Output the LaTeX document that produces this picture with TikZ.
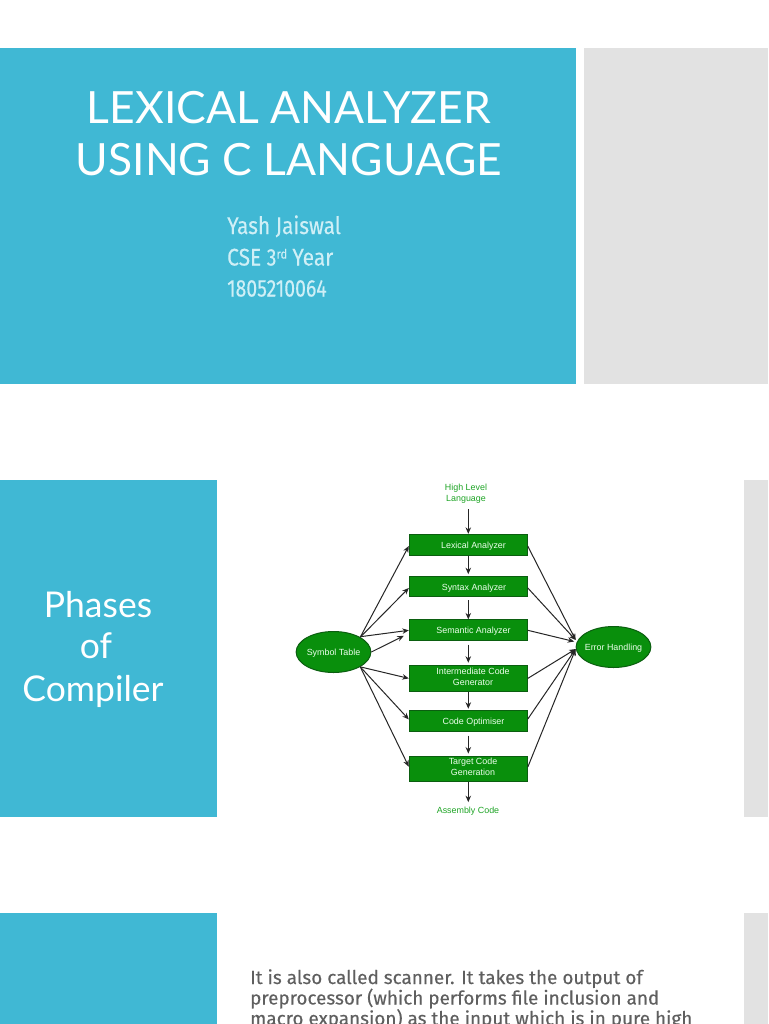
\documentclass[tikz,border=0pt]{standalone}
\usepackage{fontspec}
\usetikzlibrary{shapes.geometric,arrows.meta}
\setmainfont{Fira Sans}[FakeBold=0.25]
\newfontfamily\labelfont{Liberation Sans}
\newfontfamily\titlefont{Lato}
\newfontfamily\subfont{Fira Sans}[FakeStretch=0.87,FakeBold=0.25]
\newfontfamily\digitfont{Fira Sans}[FakeStretch=0.81,FakeBold=0.25]
\definecolor{panel}{HTML}{40B8D4}
\definecolor{sidegray}{HTML}{E2E2E2}
\definecolor{boxgreen}{HTML}{098F0C}
\definecolor{edgegreen}{HTML}{0B5E10}
\definecolor{labelgreen}{HTML}{1FA526}
\definecolor{subtext}{HTML}{CFEFF6}
\definecolor{bodygray}{HTML}{5F5F5F}
\tikzset{
  x=1pt,y=-1pt,
  panelbox/.style={fill=panel,draw=none},
  sidebox/.style={fill=sidegray,draw=none},
  phasebox/.style={rectangle,draw=edgegreen,fill=boxgreen,line width=1pt,inner sep=0pt,minimum width=118pt},
  oval/.style={ellipse,draw=edgegreen,fill=boxgreen,line width=1pt,inner sep=0pt,minimum width=74.7pt,minimum height=41pt},
  phasetext/.style={text=white!92!green,font=\labelfont\fontsize{8.9}{10.4}\selectfont,align=center,inner sep=0pt},
  greentext/.style={text=labelgreen,font=\labelfont\fontsize{8.9}{10.4}\selectfont,align=center,inner sep=0pt},
  flow/.style={draw=black!85,line width=1pt,-{Stealth[length=6.5pt,width=5.5pt]}},
  titletext/.style={text=white,font=\titlefont\fontsize{44.4}{50}\selectfont,anchor=base,inner sep=0pt},
  subtitle/.style={text=subtext,font=\subfont\fontsize{24}{24}\selectfont,anchor=base west,inner sep=0pt},
  sidetitle/.style={text=white,font=\titlefont\fontsize{35.5}{40}\selectfont,anchor=base,inner sep=0pt},
  bodyline/.style={text=bodygray,font=\fontsize{18.9}{20}\selectfont,anchor=base west,inner sep=0pt}
}
\begin{document}
\begin{tikzpicture}
\useasboundingbox (0,0) rectangle (768,1024);
\clip (0,0) rectangle (768,1024);
\fill[white] (0,0) rectangle (768,1024);
% slide panels
\fill[panelbox] (0,48) rectangle (576,384);
\fill[sidebox] (584,48) rectangle (768,384);
\fill[panelbox] (0,480) rectangle (217,817);
\fill[sidebox] (744,480) rectangle (768,817);
\fill[panelbox] (0,913) rectangle (217,1024);
\fill[sidebox] (744,913) rectangle (768,1024);
% title slide
\node[titletext] (t1) at (289,124) {LEXICAL ANALYZER};
\node[titletext] (t2) at (289,176) {USING C LANGUAGE};
\node[subtitle] (s1) at (227,234) {Yash Jaiswal};
\node[subtitle] (s2) at (227,265.5) {CSE \digitfont 3\raisebox{0.55ex}{\subfont\fontsize{13}{13}\selectfont rd} \subfont Year};
\node[subtitle] (s3) at (227,296.5) {\digitfont 1805210064};
% side title
\node[sidetitle] (p1) at (98,617.5) {Phases};
\node[sidetitle] (p2) at (96,658.5) {of};
\node[sidetitle] (p3) at (93,701.5) {Compiler};
% diagram
\node[phasebox,minimum height=20.7pt] (lex) at (468.3,544.7) {};
\node[phasebox,minimum height=20pt] (syn) at (468.3,586.7) {};
\node[phasebox,minimum height=20.7pt] (sem) at (468.3,630.3) {};
\node[phasebox,minimum height=25.3pt] (int) at (468.3,678.4) {};
\node[phasebox,minimum height=20.3pt] (opt) at (468.3,720.9) {};
\node[phasebox,minimum height=25.7pt] (tgt) at (468.3,768.9) {};
\node[oval] (sym) at (333.5,652) {};
\node[oval] (err) at (613.5,647) {};
\node[phasetext] (lexT) at (473.5,546) {Lexical Analyzer};
\node[phasetext] (synT) at (474,588) {Syntax Analyzer};
\node[phasetext] (semT) at (473.5,631.5) {Semantic Analyzer};
\node[phasetext] (intT) at (473,677) {Intermediate Code\\Generator};
\node[phasetext] (optT) at (473.5,722) {Code Optimiser};
\node[phasetext] (tgtT) at (473,767) {Target Code\\Generation};
\node[phasetext] (symT) at (333.5,653) {Symbol Table};
\node[phasetext] (errT) at (613.5,648) {Error Handling};
\node[greentext] (hll) at (466,493.5) {High Level\\Language};
\node[greentext] (asm) at (468,811.5) {Assembly Code};
% vertical flow
\draw[flow] (hll.south -| lex.north) ++(0,6) -- (lex.north);
\draw[flow] (lex.south) -- ([yshift=2pt]syn.north);
\draw[flow] ([yshift=-3pt]syn.south) -- (sem.north);
\draw[flow] ([yshift=-3.5pt]sem.south) -- ([yshift=2.5pt]int.north);
\draw[flow] (int.south) -- ([yshift=1.5pt]opt.north);
\draw[flow] ([yshift=-4pt]opt.south) -- ([yshift=2pt]tgt.north);
\draw[flow] (tgt.south) -- ([yshift=5pt]asm.north -| tgt.south);
% symbol table links
\draw[flow] (sym.north east) -- ([yshift=-1.3pt]lex.west);
\draw[flow] (sym.north east) -- ([yshift=-1.3pt]syn.west);
\draw[flow] ([xshift=0.5pt,yshift=0.5pt]sym.north east) -- (sem.west);
\draw[flow] (sym.east) -- ([xshift=-5pt,yshift=-5.5pt]sem.west);
\draw[flow] (sym.south east) -- (int.west);
\draw[flow] (sym.south east) -- ([yshift=1.5pt]opt.west);
\draw[flow] (sym.south east) -- ([yshift=2.2pt]tgt.west);
% error handling links
\draw[flow] ([yshift=-1.5pt]lex.east) -- ([yshift=7pt]err.west);
\draw[flow] ([yshift=-1.3pt]syn.east) -- ([yshift=7pt]err.west);
\draw[flow] (sem.east) -- ([xshift=-1.5pt,yshift=5.5pt]err.west);
\draw[flow] (int.east) -- ([yshift=-2pt]err.west);
\draw[flow] ([yshift=1.9pt]opt.east) -- ([yshift=-2pt]err.west);
\draw[flow] ([yshift=1.9pt]tgt.east) -- ([yshift=-2pt]err.west);
% body text
\node[bodyline] (b1) at (250,984) {It is also called scanner. It takes the output of};
\node[bodyline] (b2) at (250,1004.5) {preprocessor (which performs file inclusion and};
\node[bodyline] (b3) at (250,1025) {macro expansion) as the input which is in pure high};
\end{tikzpicture}
\end{document}
